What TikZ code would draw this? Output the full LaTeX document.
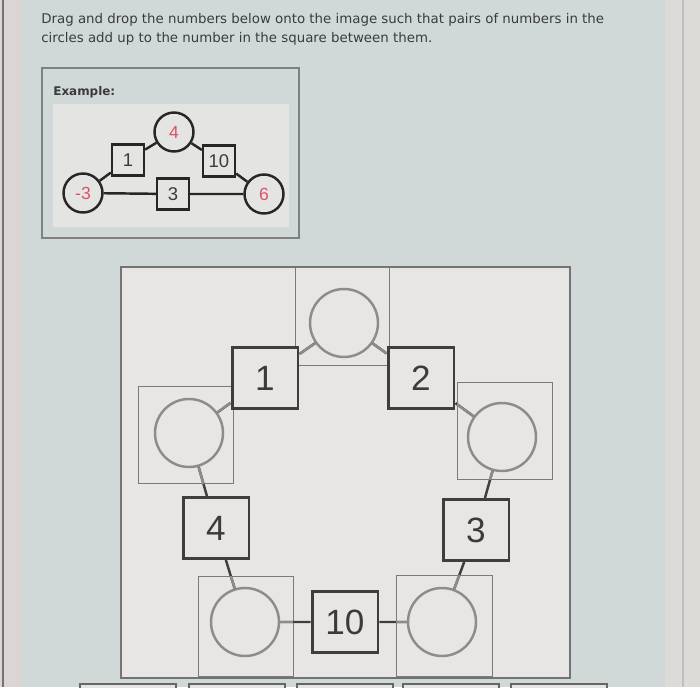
\documentclass[tikz,border=0pt]{standalone}
\usepackage{fontspec}
\setmainfont{DejaVu Sans}
\newfontfamily\numfont{Liberation Sans}
\usetikzlibrary{positioning}

\definecolor{pagebg}{HTML}{D1D9D8}
\definecolor{leftbg}{HTML}{DBD6D4}
\definecolor{rightbg}{HTML}{DCDBD8}
\definecolor{panelbg}{HTML}{E8E6E5}
\definecolor{exbg}{HTML}{E4E5E3}
\definecolor{textgray}{HTML}{3B3B3B}
\definecolor{boxgray}{HTML}{3E3E3E}
\definecolor{ringgray}{HTML}{8C8C8C}
\definecolor{zonegray}{HTML}{7A7A7A}
\definecolor{hand}{HTML}{E0506A}

\begin{document}
\begin{tikzpicture}
 	  [x=0.02cm,y=-0.02cm,
 	circ/.style={circle,draw=ringgray,line width=1.4pt,minimum size=1.36cm,inner sep=0pt},
 	numbox/.style={rectangle,draw=boxgray,line width=1.7pt,fill=panelbg,minimum width=1.32cm,minimum height=1.22cm,inner sep=0pt,text=textgray,font=\numfont\fontsize{20}{20}\selectfont},
 	zone/.style={draw=zonegray,line width=0.5pt,fill=panelbg},
 	link/.style={draw=boxgray,line width=1.4pt},
 	ringlink/.style={draw=ringgray,line width=1.4pt},
 	excirc/.style={circle,draw=black!85,line width=1.4pt,fill=exbg,minimum size=0.78cm,inner sep=0pt,text=hand,font=\numfont\fontsize{10}{10}\selectfont},
 	exbox/.style={rectangle,draw=black!85,line width=1.3pt,fill=exbg,minimum width=0.64cm,minimum height=0.62cm,inner sep=0pt,text=textgray,font=\numfont\fontsize{10.5}{10.5}\selectfont},
 	exlink/.style={draw=black!85,line width=1.4pt},
 	para/.style={anchor=base west,inner sep=0pt,text=textgray,font=\fontsize{7.6}{9}\selectfont}]
 	
 	\useasboundingbox (0,0) rectangle (700,687);
 	\clip (0,0) rectangle (700,687);
 	
 	% page
 	\fill[pagebg] (0,0) rectangle (700,687);
 	\fill[leftbg] (0,0) rectangle (22,687);
 	\draw[black!55, line width=0.8pt] (3,0) -- (3,687);
 	\fill[rightbg] (665,0) rectangle (700,687);
 	\draw[black!25, line width=0.6pt] (683,0) -- (683,687);
 	
 	\node[para] (q1) at (41,23) {Drag and drop the numbers below onto the image such that pairs of numbers in the};
 	\node[para] (q2) at (41,42) {circles add up to the number in the square between them.};
 	
 	% example
 	\draw[black!50, line width=0.7pt] (42,68) rectangle (299,238);
 	\fill[exbg] (53,104) rectangle (289,227);
 	\node[para, font=\bfseries\fontsize{6.8}{8}\selectfont] (ex) at (53,95) {Example:};
 	
 	\node[excirc] (e4) at (174,132) {4};
 	\node[excirc] (em3) at (83,193) {-3};
 	\node[excirc] (e6) at (264,194) {6};
 	\node[exbox] (e1) at (128,160) {1};
 	\node[exbox] (e10) at (219,161) {10};
 	\node[exbox] (e3) at (173,194) {3};
 	\draw[exlink] (em3) -- (e1) (e1) -- (e4) (e4) -- (e10) (e10) -- (e6)
 	 (em3) -- (e3) (e3) -- (e6);
 	
 	% puzzle
 	\draw[black!55, line width=0.6pt, fill=panelbg] (121,267) rectangle (570,678);
 	\draw[zone] (295,267) rectangle (389,365);
 	\draw[zone] (138,386) rectangle (233,483);
 	\draw[zone] (457,382) rectangle (552,479);
 	\draw[zone] (198,576) rectangle (293,676);
 	\draw[zone] (396,575) rectangle (492,676);
 	
 	\node[circ] (ct) at (344,323) {};
 	\node[circ] (cl) at (189,433) {};
 	\node[circ] (cr) at (502,437) {};
 	\node[circ] (cbl) at (245,622) {};
 	\node[circ] (cbr) at (442,622) {};
 	
 	\node[numbox] (n1) at (265,378) {1};
 	\node[numbox] (n2) at (421,378) {2};
 	\node[numbox] (n4) at (216,528) {4};
 	\node[numbox] (n3) at (476,530) {3};
 	\node[numbox] (n10) at (345,622) {10};
 	
 	\draw[link] (ct) -- (n1) (n1) -- (cl) (cl) -- (n4) (n4) -- (cbl) (cbl) -- (n10)
 	 (n10) -- (cbr) (cbr) -- (n3) (n3) -- (cr) (cr) -- (n2) (n2) -- (ct);
 	
 	% grey part of the links inside the drop zones
 	\begin{scope}
 	 \clip (295,267) rectangle (389,365);
 	 \draw[ringlink] (ct) -- (n1) (ct) -- (n2);
 	\end{scope}
 	\begin{scope}
 	 \clip (138,386) rectangle (233,483);
 	 \draw[ringlink] (cl) -- (n1) (cl) -- (n4);
 	\end{scope}
 	\begin{scope}
 	 \clip (457,382) rectangle (552,479);
 	 \draw[ringlink] (cr) -- (n2) (cr) -- (n3);
 	\end{scope}
 	\begin{scope}
 	 \clip (198,576) rectangle (293,676);
 	 \draw[ringlink] (cbl) -- (n4) (cbl) -- (n10);
 	\end{scope}
 	\begin{scope}
 	 \clip (396,575) rectangle (492,676);
 	 \draw[ringlink] (cbr) -- (n3) (cbr) -- (n10);
 	\end{scope}
 	
 	% tiles below, cut off
 	\foreach \x in {80,189,297,403,511}
 	 \draw[black!60, line width=0.6pt, fill=exbg] (\x,684) rectangle ++(96,20);
 	
 \end{tikzpicture}
\end{document}
